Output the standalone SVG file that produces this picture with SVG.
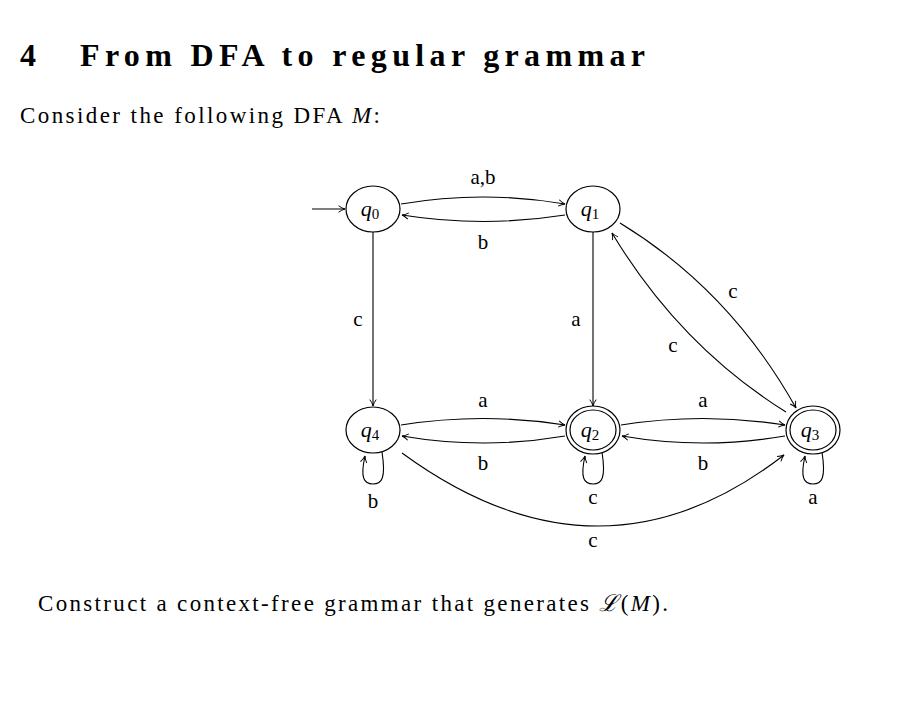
<svg xmlns="http://www.w3.org/2000/svg" width="897" height="706" viewBox="0 0 897 706">
<style>
.t{font-family:"Liberation Serif",serif;fill:#000}
.l{font-family:"Liberation Serif",serif;font-size:21px;text-anchor:middle}
.q{font-family:"Liberation Serif",serif;font-size:22px;font-style:italic;text-anchor:middle}
.s{font-size:15px;font-style:normal}
.n{fill:#fff;stroke:#000;stroke-width:1.2}
.e{fill:none;stroke:#000;stroke-width:1.1;marker-end:url(#a)}
</style>
<defs><marker id="a" viewBox="0 0 10 10" refX="9" refY="5" markerWidth="8" markerHeight="8" orient="auto" markerUnits="userSpaceOnUse"><path d="M1,1 Q5,4 9,5 Q5,6 1,9" fill="none" stroke="#000" stroke-width="1.2"/></marker></defs>
<rect width="897" height="706" fill="#fff"/>
<text class="t" x="20" y="66" font-size="32" font-weight="bold">4</text>
<text class="t" x="80" y="66" font-size="32" font-weight="bold" textLength="565" lengthAdjust="spacing">From DFA to regular grammar</text>
<text class="t" x="20" y="123" font-size="23" textLength="360" lengthAdjust="spacing">Consider the following DFA <tspan font-style="italic">M</tspan>:</text>
<text class="t" x="38" y="611" font-size="23" textLength="630" lengthAdjust="spacing">Construct a context-free grammar that generates <tspan font-style="italic">ℒ</tspan>(<tspan font-style="italic">M</tspan>).</text>
<g id="edges">
<path class="e" d="M312,209 L345,209"/>
<path class="e" d="M401,204 Q483,190 565,204"/>
<path class="e" d="M565,215 Q483,228 402,215"/>
<path class="e" d="M373,232 L373,406"/>
<path class="e" d="M593,232 L593,406"/>
<path class="e" d="M401,425 Q483,412 565,425"/>
<path class="e" d="M565,436 Q483,450 402,436"/>
<path class="e" d="M621,425 Q703,412 785,425"/>
<path class="e" d="M785,436 Q703,450 622,436"/>
<path class="e" d="M402,453 Q600,598 784,455"/>
<path class="e" d="M620,223 Q730,290 796,408"/>
<path class="e" d="M786,412 Q680,346 612,233"/>
<path class="e" d="M382,452 C386,478 382,484 373,484 C364,484 360,478 365,456"/>
<path class="e" d="M602,452 C606,478 602,484 593,484 C584,484 580,478 585,456"/>
<path class="e" d="M822,452 C826,478 822,484 813,484 C804,484 800,478 805,456"/>
</g>
<g id="labels">
<text class="l" x="483" y="184">a,b</text>
<text class="l" x="483" y="249">b</text>
<text class="l" x="358" y="326">c</text>
<text class="l" x="576" y="326">a</text>
<text class="l" x="733" y="298">c</text>
<text class="l" x="673" y="352">c</text>
<text class="l" x="483" y="407">a</text>
<text class="l" x="483" y="470">b</text>
<text class="l" x="703" y="407">a</text>
<text class="l" x="703" y="470">b</text>
<text class="l" x="373" y="508">b</text>
<text class="l" x="593" y="504">c</text>
<text class="l" x="813" y="504">a</text>
<text class="l" x="593" y="547">c</text>
</g>
<g id="q0"><ellipse class="n" cx="373" cy="209" rx="27" ry="23"/><text class="q" x="370" y="216">q<tspan class="s" dy="3">0</tspan></text></g>
<g id="q1"><ellipse class="n" cx="593" cy="209" rx="27" ry="23"/><text class="q" x="590" y="216">q<tspan class="s" dy="3">1</tspan></text></g>
<g id="q4"><ellipse class="n" cx="373" cy="430" rx="27" ry="23"/><text class="q" x="370" y="437">q<tspan class="s" dy="3">4</tspan></text></g>
<g id="q2"><ellipse class="n" cx="593" cy="430" rx="27" ry="24"/><ellipse class="n" cx="593" cy="430" rx="23" ry="20"/><text class="q" x="590" y="437">q<tspan class="s" dy="3">2</tspan></text></g>
<g id="q3"><ellipse class="n" cx="813" cy="430" rx="27" ry="24"/><ellipse class="n" cx="813" cy="430" rx="23" ry="20"/><text class="q" x="810" y="437">q<tspan class="s" dy="3">3</tspan></text></g>
</svg>
